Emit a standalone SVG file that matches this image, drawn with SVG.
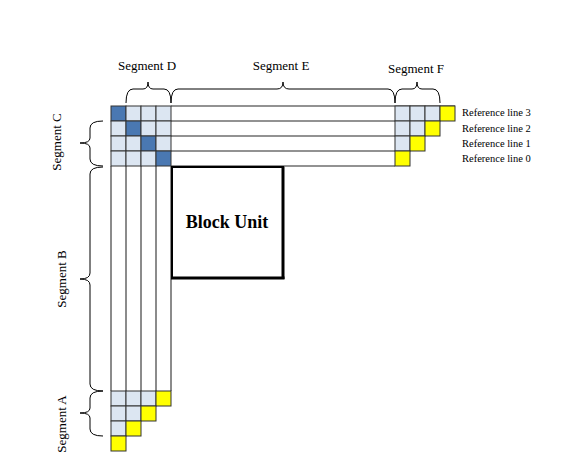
<svg xmlns="http://www.w3.org/2000/svg" width="570" height="470" viewBox="0 0 570 470">
<style>
.lb{fill:#dce6f2;stroke:#333;stroke-width:1}
.db{fill:#4a78b2;stroke:#333;stroke-width:1}
.yw{fill:#ffff00;stroke:#333;stroke-width:1}
.ln{stroke:#6e6e6e;stroke-width:1.6;fill:none}
.br{fill:none;stroke:#000;stroke-width:1}
.t{font-family:"Liberation Serif",serif;font-size:13px;fill:#000}
.rt{font-family:"Liberation Serif",serif;font-size:10.5px;fill:#000}
</style>
<rect width="570" height="470" fill="#fff"/>
<g id="connectors">
<line class="ln" x1="171" y1="106" x2="455" y2="106"/>
<line class="ln" x1="171" y1="121" x2="395" y2="121"/>
<line class="ln" x1="171" y1="136" x2="395" y2="136"/>
<line class="ln" x1="171" y1="151" x2="395" y2="151"/>
<line class="ln" x1="171" y1="166" x2="395" y2="166"/>
<line class="ln" x1="111" y1="166" x2="111" y2="391"/>
<line class="ln" x1="126" y1="166" x2="126" y2="391"/>
<line class="ln" x1="141" y1="166" x2="141" y2="391"/>
<line class="ln" x1="156" y1="166" x2="156" y2="391"/>
<line class="ln" x1="171" y1="166" x2="171" y2="391"/>
</g>
<g id="segment-d-grid">
<rect class="db" x="111" y="106" width="15" height="15"/><rect class="lb" x="126" y="106" width="15" height="15"/><rect class="lb" x="141" y="106" width="15" height="15"/><rect class="lb" x="156" y="106" width="15" height="15"/>
<rect class="lb" x="111" y="121" width="15" height="15"/><rect class="db" x="126" y="121" width="15" height="15"/><rect class="lb" x="141" y="121" width="15" height="15"/><rect class="lb" x="156" y="121" width="15" height="15"/>
<rect class="lb" x="111" y="136" width="15" height="15"/><rect class="lb" x="126" y="136" width="15" height="15"/><rect class="db" x="141" y="136" width="15" height="15"/><rect class="lb" x="156" y="136" width="15" height="15"/>
<rect class="lb" x="111" y="151" width="15" height="15"/><rect class="lb" x="126" y="151" width="15" height="15"/><rect class="lb" x="141" y="151" width="15" height="15"/><rect class="db" x="156" y="151" width="15" height="15"/>
</g>
<g id="segment-f-grid">
<rect class="lb" x="395" y="106" width="15" height="15"/><rect class="lb" x="410" y="106" width="15" height="15"/><rect class="lb" x="425" y="106" width="15" height="15"/><rect class="yw" x="440" y="106" width="15" height="15"/>
<rect class="lb" x="395" y="121" width="15" height="15"/><rect class="lb" x="410" y="121" width="15" height="15"/><rect class="yw" x="425" y="121" width="15" height="15"/>
<rect class="lb" x="395" y="136" width="15" height="15"/><rect class="yw" x="410" y="136" width="15" height="15"/>
<rect class="yw" x="395" y="151" width="15" height="15"/>
</g>
<g id="segment-a-grid">
<rect class="lb" x="111" y="391" width="15" height="15"/><rect class="lb" x="126" y="391" width="15" height="15"/><rect class="lb" x="141" y="391" width="15" height="15"/><rect class="yw" x="156" y="391" width="15" height="15"/>
<rect class="lb" x="111" y="406" width="15" height="15"/><rect class="lb" x="126" y="406" width="15" height="15"/><rect class="yw" x="141" y="406" width="15" height="15"/>
<rect class="lb" x="111" y="421" width="15" height="15"/><rect class="yw" x="126" y="421" width="15" height="15"/>
<rect class="yw" x="111" y="436" width="15" height="15"/>
</g>
<g id="block-unit">
<rect x="172" y="167" width="111" height="111" fill="#fff" stroke="#000" stroke-width="2"/>
<line x1="283" y1="166.5" x2="283" y2="279" stroke="#000" stroke-width="3"/>
<line x1="171" y1="278" x2="284.5" y2="278" stroke="#000" stroke-width="3"/>
<text x="227" y="228" text-anchor="middle" font-family="Liberation Serif, serif" font-size="18" font-weight="bold">Block Unit</text>
</g>
<g id="segment-d">
<path class="br" d="M126,103 Q126,89 133,89 L143,89 Q148,89 148,82 Q148,89 153,89 L164,89 Q171,89 171,103"/>
<text class="t" x="147" y="70" text-anchor="middle">Segment D</text>
</g>
<g id="segment-e">
<path class="br" d="M171,103 Q171,89 178,89 L277,89 Q283,89 283,82 Q283,89 289,89 L388,89 Q395,89 395,103"/>
<text class="t" x="281" y="70" text-anchor="middle">Segment E</text>
</g>
<g id="segment-f">
<path class="br" d="M395,103 Q395,89 402,89 L412,89 Q417,89 417,82 Q417,89 422,89 L433,89 Q440,89 440,103"/>
<text class="t" x="416" y="73" text-anchor="middle">Segment F</text>
</g>
<g id="segment-c">
<path class="br" d="M103,121 Q90,121 90,128 L90,138 Q90,143 80,143 Q90,143 90,148 L90,159 Q90,166 103,166"/>
<text class="t" transform="translate(61,142) rotate(-90)" text-anchor="middle">Segment C</text>
</g>
<g id="segment-b">
<path class="br" d="M103,167 Q90,167 90,174 L90,273 Q90,279 80,279 Q90,279 90,285 L90,384 Q90,391 103,391"/>
<text class="t" transform="translate(66,279) rotate(-90)" text-anchor="middle">Segment B</text>
</g>
<g id="segment-a">
<path class="br" d="M103,391 Q90,391 90,398 L90,408 Q90,413 80,413 Q90,413 90,418 L90,429 Q90,436 103,436"/>
<text class="t" transform="translate(66,424) rotate(-90)" text-anchor="middle">Segment A</text>
</g>
<g id="reference-labels">
<text class="rt" x="462" y="116">Reference line 3</text>
<text class="rt" x="462" y="132">Reference line 2</text>
<text class="rt" x="462" y="147">Reference line 1</text>
<text class="rt" x="462" y="162">Reference line 0</text>
</g>
</svg>
